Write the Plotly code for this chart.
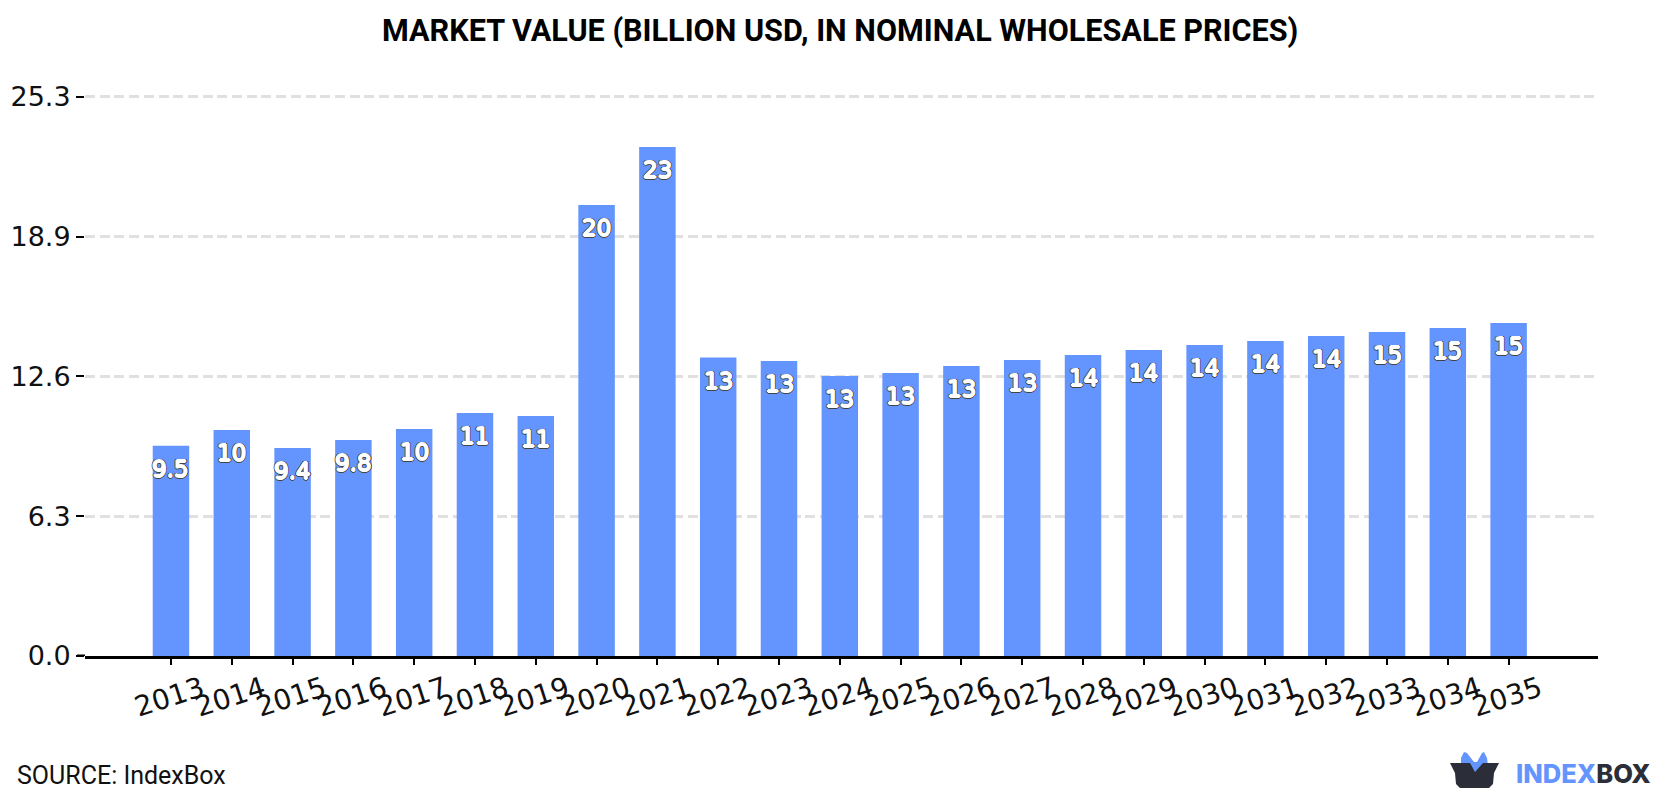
import plotly.graph_objects as go

WIDTH, HEIGHT = 1680, 800
LEFT, RIGHT, TOP, BOTTOM = 85, 82, 82, 144
PLOT_W = WIDTH - LEFT - RIGHT
PLOT_H = HEIGHT - TOP - BOTTOM

years = [str(y) for y in range(2013, 2036)]
market_value = [9.5, 10.22, 9.4, 9.76, 10.26, 10.99, 10.85, 20.39, 23.01, 13.49, 13.34,
                12.66, 12.79, 13.11, 13.38, 13.61, 13.83, 14.06, 14.24, 14.47, 14.65, 14.83, 15.05]
y_ticks = [0.0, 6.32, 12.64, 18.96, 25.28]
y_tick_labels = ["0.0", "6.3", "12.6", "18.9", "25.3"]

BLUE = "#6495ff"
DARK = "#2b2d38"
# White halo thickens the glyphs, a thin grey edge sits outside it.
_halo = [(-0.9, 0), (0.9, 0), (0, -0.6), (0, 0.6)]
_edge = [(-1.7, 0), (1.7, 0), (0, -1.5), (0, 1.5), (-1.2, -1.1), (1.2, -1.1), (-1.2, 1.1), (1.2, 1.1)]
OUTLINE = ", ".join([f"{a}px {b}px 0 #fff" for a, b in _halo] + [f"{a}px {b}px 0 #444" for a, b in _edge])


def px(x):
    # Page pixel column to the plot area's fractional x.
    return (x - LEFT) / PLOT_W


def py(y):
    # Page pixel row to the plot area's fractional y.
    return 1 - (y - TOP) / PLOT_H


def logo_path(points):
    return "M" + " L".join(f"{px(x):.5f},{py(y):.5f}" for x, y in points) + " Z"


fig = go.Figure(go.Bar(
    x=list(range(len(years))),
    y=market_value,
    width=0.6,
    marker=dict(color=BLUE, line=dict(width=0)),
    hoverinfo="skip",
))

# Value labels sit a fixed distance below each bar's top edge.
annotations = [
    dict(x=i, y=v, xref="x", yref="y", yshift=-23, text=format(v, ".2g"), showarrow=False,
         font=dict(family="DejaVu Sans", size=23, color="white", shadow=OUTLINE))
    for i, v in enumerate(market_value)
]
annotations += [
    dict(x=px(840), y=py(31), xref="paper", yref="paper", yanchor="middle",
         text="MARKET VALUE (BILLION USD, IN NOMINAL WHOLESALE PRICES)",
         showarrow=False, font=dict(family="Roboto", size=30.6, color="black", weight="bold")),
    dict(x=px(15), y=py(775), xref="paper", yref="paper", xanchor="left", yanchor="middle",
         text="SOURCE: IndexBox",
         showarrow=False, font=dict(family="Roboto", size=25, color="#111")),
    dict(x=px(1514), y=py(773), xref="paper", yref="paper", xanchor="left", yanchor="middle",
         text=f'<span style="color:{BLUE}">INDEX</span><span style="color:{DARK}">BOX</span>',
         showarrow=False, font=dict(family="Inter", size=25.5, weight=800)),
]

# Brand mark: a dark open box with a blue crown rising out of it.
crown = [(1461, 773), (1461, 758), (1464, 752), (1467, 753), (1474, 762), (1477, 762), (1482, 753), (1484, 752), (1487, 758), (1488, 766), (1476, 773)]
box = [(1450, 763), (1470, 763), (1475, 772), (1483, 763), (1499, 763), (1494, 773), (1493, 784), (1489, 788), (1460, 788), (1456, 784), (1455, 773)]
shapes = [
    dict(type="path", xref="paper", yref="paper", path=logo_path(crown), fillcolor=BLUE, line=dict(width=0)),
    dict(type="path", xref="paper", yref="paper", path=logo_path(box), fillcolor=DARK, line=dict(width=0)),
    # The baseline runs on through the y tick column.
    dict(type="line", xref="paper", yref="y", x0=px(77), x1=0, y0=0, y1=0,
         line=dict(color="black", width=3)),
]

fig.update_layout(
    width=WIDTH, height=HEIGHT,
    margin=dict(l=LEFT, r=RIGHT, t=TOP, b=BOTTOM, pad=0, autoexpand=False),
    paper_bgcolor="white", plot_bgcolor="white",
    showlegend=False,
    annotations=annotations,
    shapes=shapes,
    xaxis=dict(
        automargin=False,
        range=[-1.414, 23.47],
        tickmode="array",
        tickvals=list(range(len(years))),
        ticktext=years,
        tickangle=-18,
        ticks="outside", ticklen=6, tickwidth=2, tickcolor="black",
        tickfont=dict(family="DejaVu Sans", size=28, color="#111"),
        ticklabelshift=31,
        ticklabelstandoff=-3,
        showgrid=False,
        showline=True, linecolor="black", linewidth=3,
        zeroline=False,
    ),
    yaxis=dict(
        automargin=False,
        range=[0, 25.95],
        tickmode="array",
        tickvals=y_ticks,
        ticktext=y_tick_labels,
        ticks="outside", ticklen=8, tickwidth=2, tickcolor="black",
        ticklabelstandoff=0,
        tickfont=dict(family="DejaVu Sans", size=27, color="#111"),
        showgrid=True, gridcolor="#e0e0e0", gridwidth=3, griddash="10px,4.7px",
        showline=False, zeroline=False,
    ),
)

fig.write_html("out.html")
